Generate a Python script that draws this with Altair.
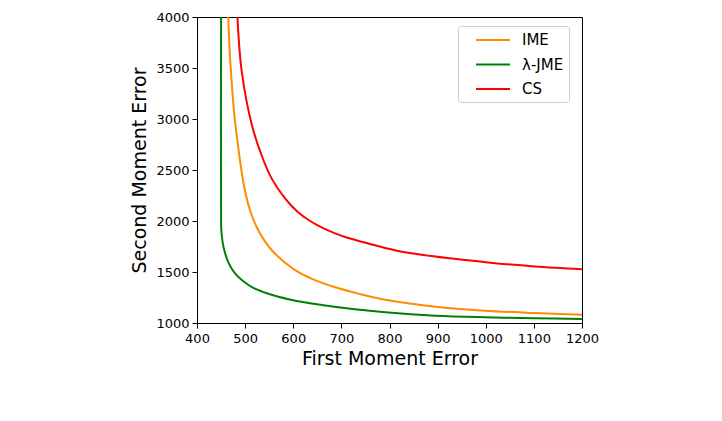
import altair as alt
import pandas as pd

series_names = ["IME", "λ-JME", "CS"]
series_colors = ["#ff8c00", "#008000", "#ff0000"]

ime_x = [465, 467.6, 472, 477.6, 486, 497, 510, 527, 555, 600, 640, 687, 735, 791, 895, 998, 1102, 1200]
ime_y = [4000, 3693, 3366, 3039, 2712, 2360, 2108, 1912, 1716, 1530, 1430, 1350, 1288, 1228, 1160, 1121, 1098, 1081]

jme_x = [450, 450, 450.5, 455, 466, 479, 493, 517, 545, 597, 659, 728, 791, 895, 998, 1102, 1200]
jme_y = [4000, 2000, 1912, 1748, 1585, 1487, 1422, 1345, 1291, 1225, 1176, 1134, 1105, 1072, 1056, 1046, 1039]

cs_x = [484, 493, 514, 534, 555, 583, 610, 635, 660, 687, 711, 742, 791, 815, 870, 926, 1009, 1102, 1200]
cs_y = [4000, 3464, 2941, 2647, 2418, 2222, 2086, 2000, 1935, 1879, 1838, 1797, 1735, 1709, 1667, 1634, 1591, 1555, 1528]

x_ticks = [400, 500, 600, 700, 800, 900, 1000, 1100, 1200]
y_ticks = [1000, 1500, 2000, 2500, 3000, 3500, 4000]

rows = []
for name, xs, ys in zip(series_names, [ime_x, jme_x, cs_x], [ime_y, jme_y, cs_y]):
    for i, (xv, yv) in enumerate(zip(xs, ys)):
        rows.append({"series": name, "x": xv, "y": yv, "idx": i})
df = pd.DataFrame(rows)

font = "DejaVu Sans"

x_enc = alt.X("x:Q", title="First Moment Error",
              scale=alt.Scale(domain=[400, 1200], nice=False, zero=False),
              axis=alt.Axis(values=x_ticks, format="d", labelOverlap=False, labelFlush=False))
y_enc = alt.Y("y:Q", title="Second Moment Error",
              scale=alt.Scale(domain=[1000, 4000], nice=False, zero=False),
              axis=alt.Axis(values=y_ticks, format="d", labelOverlap=False, labelFlush=False))
color_enc = alt.Color("series:N", scale=alt.Scale(domain=series_names, range=series_colors),
                      legend=alt.Legend(title=None, orient="none", legendX=261, legendY=9,
                                        padding=5, strokeColor="#cccccc", fillColor="white",
                                        cornerRadius=3, labelFontSize=15, labelFont=font,
                                        labelColor="black",
                                        symbolType="M0.5,0H4.75", symbolSize=256,
                                        symbolStrokeWidth=2, labelOffset=41, rowPadding=7.5))

chart = alt.Chart(df).mark_line(
    strokeWidth=2, clip=True, interpolate="catmull-rom"
).encode(
    x=x_enc, y=y_enc, color=color_enc, order="idx:Q"
).properties(
    width=385, height=306,
    padding={"left": 189, "top": 9, "right": 132, "bottom": 90},
    autosize=alt.AutoSizeParams(type="none"),
).configure_view(
    stroke="black", strokeWidth=1
).configure_axis(
    grid=False, domainColor="black", domainWidth=1, tickColor="black", tickWidth=1,
    tickSize=5, labelFontSize=13, labelFont=font, labelColor="black", labelPadding=3,
    titleFont=font, titleFontSize=19, titleFontWeight="normal", titleColor="black",
).configure_axisX(titlePadding=4, labelPadding=4).configure_axisY(titlePadding=6)

chart.save("out.html", embed_options={"renderer": "svg", "actions": False})
